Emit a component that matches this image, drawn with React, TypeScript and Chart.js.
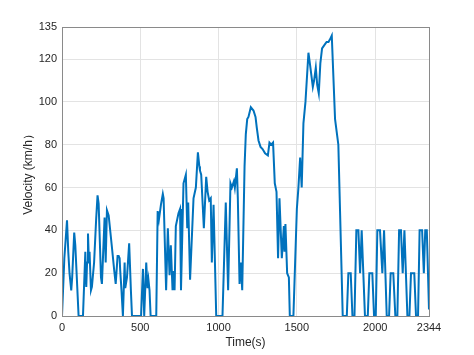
import React, { useEffect, useRef } from "react";
import { Chart, registerables } from "chart.js";

Chart.register(...registerables);

const timeSeconds: number[] = [
  0, 15, 32, 40, 48, 59, 65, 78, 85, 106, 134, 149, 155, 160, 166, 172, 176, 185, 191, 205,
  218, 227, 234, 249, 255, 272, 279, 287, 298, 319, 334, 343, 355, 362, 368, 372, 380, 389, 400, 404,
  415, 429, 440, 447, 505, 517, 525, 538, 546, 552, 559, 566, 602, 611, 619, 632, 644, 649, 665, 676,
  687, 695, 706, 712, 719, 727, 744, 754, 760, 776, 791, 800, 806, 818, 840, 855, 868, 877, 881, 889,
  906, 921, 930, 940, 950, 957, 968, 985, 1025, 1046, 1061, 1076, 1085, 1098, 1104, 1117, 1123, 1134, 1142, 1151,
  1166, 1174, 1183, 1191, 1206, 1223, 1236, 1244, 1255, 1268, 1281, 1297, 1315, 1325, 1336, 1348, 1359, 1370, 1380, 1389,
  1404, 1417, 1421, 1427, 1438, 1449, 1455, 1478, 1500, 1510, 1521, 1531, 1542, 1555, 1574, 1585, 1602, 1610, 1621, 1630,
  1640, 1650, 1661, 1680, 1690, 1702, 1710, 1723, 1744, 1765, 1793, 1819, 1829, 1844, 1855, 1868, 1880, 1893, 1904, 1914,
  1935, 1953, 1963, 1982, 1993, 2004, 2014, 2031, 2046, 2057, 2074, 2089, 2099, 2116, 2129, 2142, 2153, 2165, 2176, 2187,
  2206, 2219, 2229, 2250, 2261, 2274, 2284, 2300, 2311, 2320, 2330, 2344,
];

const velocityKmh: number[] = [
  0, 27, 44.7, 30, 20, 12, 18, 39, 33, 0, 0, 30, 13.6, 25, 38.5, 25, 30, 12, 13.6, 25,
  45, 56.4, 52.5, 18, 15, 46, 25, 49.4, 47, 32, 21, 15, 28, 28, 27, 21, 12, 0, 25, 13,
  18, 34, 12, 0, 0, 22, 0, 25, 13, 17, 12, 0, 0, 49, 45, 52, 57, 55, 12, 41,
  19, 33, 12, 21, 12, 42, 48, 50, 12, 62, 66, 41, 53, 17, 55, 60, 76.5, 70, 68, 66,
  41, 65, 58, 54, 55, 25, 52, 0, 0, 53, 12, 62, 60, 63, 60, 69, 55, 15, 25, 12,
  70, 85, 92, 93, 97.5, 96, 93, 88, 82, 79, 78, 76, 75, 81, 80, 81, 62, 58, 27, 55,
  27, 42, 30, 43, 20, 18, 0, 0, 50, 60, 74, 60, 90, 100, 123, 117, 107, 110, 116, 108,
  104, 118, 125, 127, 128, 128, 129, 131, 92, 80, 0, 0, 20, 20, 0, 0, 40, 40, 20, 40,
  0, 0, 20, 20, 0, 0, 40, 40, 20, 40, 0, 0, 20, 20, 0, 0, 40, 40, 20, 40,
  0, 0, 20, 20, 0, 0, 40, 40, 20, 40, 40, 3,
];

const xTickValues: number[] = [0, 500, 1000, 1500, 2000, 2344];
const yTickValues: number[] = [0, 20, 40, 60, 80, 100, 120, 135];

const xTitle = "Time(s)";
const yTitle = "Velocity (km/h）";

const FONT = "'Liberation Sans', Arial, Helvetica, sans-serif";
const TEXT = "#262626";

const boxPlugin = {
  id: "matlabBox",
  afterDraw(chart: any) {
    const { ctx, chartArea } = chart;
    ctx.save();
    ctx.strokeStyle = "#8a8a8a";
    ctx.lineWidth = 1;
    ctx.strokeRect(
      Math.round(chartArea.left) + 0.5,
      Math.round(chartArea.top) + 0.5,
      Math.round(chartArea.right - chartArea.left),
      Math.round(chartArea.bottom - chartArea.top)
    );
    ctx.restore();
  },
};

export default function App() {
  const canvasRef = useRef<HTMLCanvasElement | null>(null);

  useEffect(() => {
    document.body.style.margin = "0";
    const canvas = canvasRef.current;
    if (!canvas) return;
    const points = timeSeconds.map((t, i) => ({ x: t, y: velocityKmh[i] }));
    const chart = new Chart(canvas, {
      type: "line",
      data: {
        datasets: [
          {
            data: points,
            borderColor: "#0072BD",
            borderWidth: 2,
            pointRadius: 0,
            fill: false,
            tension: 0,
          },
        ],
      },
      options: {
        responsive: false,
        animation: false,
        layout: { padding: { top: 27, right: 45, left: 0, bottom: 0 } },
        plugins: {
          legend: { display: false },
          tooltip: { enabled: false },
        },
        scales: {
          x: {
            type: "linear",
            min: 0,
            max: 2344,
            afterBuildTicks: (scale: any) => {
              scale.ticks = xTickValues.map((v) => ({ value: v }));
            },
            afterFit: (scale: any) => {
              scale.height = 39;
            },
            grid: { color: "#e3e3e3", drawTicks: false },
            border: { display: false },
            ticks: {
              autoSkip: false,
              maxRotation: 0,
              padding: 5,
              color: TEXT,
              font: { family: FONT, size: 11 },
              callback: (v: any) => String(v),
            },
            title: {
              display: true,
              text: xTitle,
              color: TEXT,
              font: { family: FONT, size: 12 },
              padding: { top: 0, bottom: 5 },
            },
          },
          y: {
            type: "linear",
            min: 0,
            max: 135,
            afterBuildTicks: (scale: any) => {
              scale.ticks = yTickValues.map((v) => ({ value: v }));
            },
            afterFit: (scale: any) => {
              scale.width = 62;
            },
            grid: { color: "#e3e3e3", drawTicks: false },
            border: { display: false },
            ticks: {
              autoSkip: false,
              padding: 5,
              color: TEXT,
              font: { family: FONT, size: 11 },
              callback: (v: any) => String(v),
            },
            title: {
              display: true,
              text: yTitle,
              color: TEXT,
              font: { family: FONT, size: 12 },
              padding: { top: 21, bottom: 0 },
            },
          },
        },
      },
      plugins: [boxPlugin],
    });
    return () => chart.destroy();
  }, []);

  return (
    <div style={{ width: 474, height: 355, background: "#ffffff" }}>
      <canvas ref={canvasRef} width={474} height={355} style={{ display: "block" }} />
    </div>
  );
}
